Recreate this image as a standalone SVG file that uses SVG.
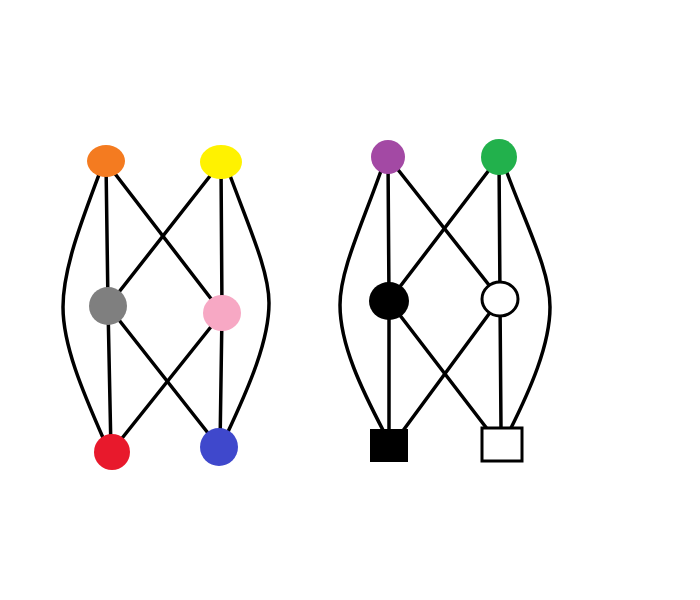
<svg xmlns="http://www.w3.org/2000/svg" width="700" height="600" viewBox="0 0 700 600">
<style>
.e{stroke:#000;stroke-width:3.5;fill:none;stroke-linecap:round}
.o{stroke:#000;stroke-width:3}
</style>
<rect width="700" height="600" fill="#fff"/>
<g id="connectors">
<!-- left graph -->
<line class="e" x1="106" y1="162" x2="108" y2="306"/>
<line class="e" x1="106" y1="162" x2="222" y2="313"/>
<line class="e" x1="221" y1="162" x2="108" y2="306"/>
<line class="e" x1="221" y1="162" x2="222" y2="313"/>
<line class="e" x1="108" y1="306" x2="111" y2="452"/>
<line class="e" x1="108" y1="306" x2="219" y2="447"/>
<line class="e" x1="222" y1="313" x2="111" y2="452"/>
<line class="e" x1="222" y1="313" x2="220" y2="447"/>
<path class="e" d="M100,172 C80,225 63,270 63,307 C63,345 82,390 104,440"/>
<path class="e" d="M228,170 C248,225 269,270 269,303 C269,340 250,385 226,436"/>
<!-- right graph -->
<line class="e" x1="388" y1="157" x2="389" y2="301"/>
<line class="e" x1="388" y1="157" x2="500" y2="299"/>
<line class="e" x1="499" y1="157" x2="389" y2="301"/>
<line class="e" x1="499" y1="157" x2="500" y2="299"/>
<line class="e" x1="389" y1="301" x2="389" y2="440"/>
<line class="e" x1="389" y1="301" x2="488" y2="430"/>
<line class="e" x1="500" y1="299" x2="402" y2="432"/>
<line class="e" x1="500" y1="299" x2="501" y2="430"/>
<path class="e" d="M382,168 C362,225 340,270 340,305 C340,345 362,390 384,432"/>
<path class="e" d="M506,170 C526,225 550,270 550,307 C550,345 530,390 510,430"/>
</g>
<g id="orange"><ellipse cx="106" cy="161" rx="19" ry="16" fill="#f47b20"/></g>
<g id="yellow"><ellipse cx="221" cy="162" rx="21" ry="17" fill="#fff200"/></g>
<g id="gray"><ellipse cx="108" cy="306" rx="19" ry="19" fill="#7f7f7f"/></g>
<g id="pink"><ellipse cx="222" cy="313" rx="19" ry="18" fill="#f7a8c4"/></g>
<g id="red"><ellipse cx="112" cy="452" rx="18" ry="18" fill="#e8192c"/></g>
<g id="blue"><ellipse cx="219" cy="447" rx="19" ry="19" fill="#3f48cc"/></g>
<g id="purple"><ellipse cx="388" cy="157" rx="17" ry="17" fill="#a349a4"/></g>
<g id="green"><ellipse cx="499" cy="157" rx="18" ry="18" fill="#22b14c"/></g>
<g id="black-circle"><ellipse cx="389" cy="301" rx="20" ry="19" fill="#000"/></g>
<g id="white-circle"><ellipse cx="500" cy="299" rx="18" ry="17" fill="#fff" class="o"/></g>
<g id="black-square"><rect x="370" y="429" width="38" height="33" fill="#000"/></g>
<g id="white-square"><rect x="482" y="428" width="40" height="33" fill="#fff" class="o"/></g>
</svg>
